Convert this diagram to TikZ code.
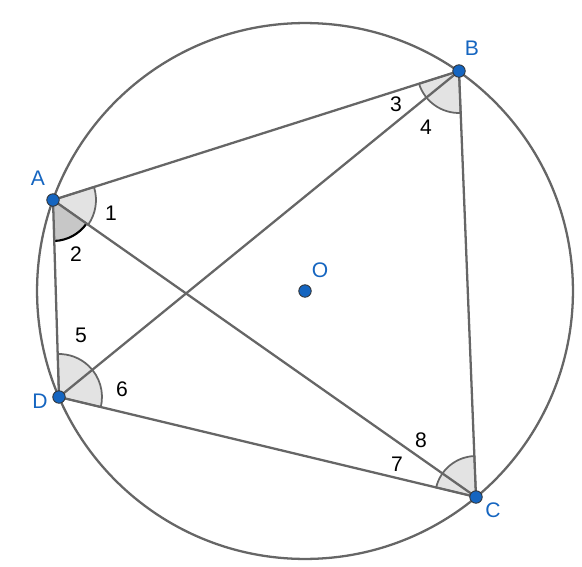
\documentclass[tikz,border=0pt]{standalone}
\usepackage{fontspec}
\setmainfont{Liberation Sans}
\usepackage{tikz}
\definecolor{ptblue}{RGB}{21,101,192}
\definecolor{linegray}{RGB}{102,102,102}

\begin{document}
\begin{tikzpicture}[x=0.02cm,y=0.02cm,
    seg/.style={draw=linegray,line width=1.3pt},
    sector/.style={fill=black!11,draw=linegray,line width=1pt},
    pt/.style={circle,fill=ptblue,draw=black!80,line width=0.5pt,inner sep=0pt,minimum size=0.25cm},
    ptlabel/.style={text=ptblue,font=\fontsize{12}{14}\selectfont},
    num/.style={font=\fontsize{12}{14}\selectfont}]
      \useasboundingbox (0,0) rectangle (582,566);
      \coordinate (O) at (305,275);
      \coordinate (A) at (53,366);
      \coordinate (B) at (459,495);
      \coordinate (C) at (476,69);
      \coordinate (D) at (59,169);
      % angle sectors
      \draw[sector] (A) -- ++(-35.07:0.86cm) arc[start angle=-35.07,end angle=17.63,radius=0.86cm] -- cycle;
      \fill[black!22] (A) -- ++(-88.26:0.82cm) arc[start angle=-88.26,end angle=-35.07,radius=0.82cm] -- cycle;
      \draw[black,line width=1.2pt] (A) ++(-88.26:0.82cm) arc[start angle=-88.26,end angle=-35.07,radius=0.82cm];
      \draw[sector] (B) -- ++(197.63:0.84cm) arc[start angle=197.63,end angle=272.29,radius=0.84cm] -- cycle;
      \draw[sector] (D) -- ++(-13.49:0.86cm) arc[start angle=-13.49,end angle=91.74,radius=0.86cm] -- cycle;
      \draw[sector] (C) -- ++(92.29:0.82cm) arc[start angle=92.29,end angle=166.51,radius=0.82cm] -- cycle;
      % circle and chords
      \draw[seg] (O) circle[radius=5.36cm];
      \draw[seg] (A) -- (B) -- (C) -- (D) -- cycle;
      \draw[seg] (A) -- (C);
      \draw[seg] (B) -- (D);
      % points
      \node[pt] (pA) at (A) {};
      \node[pt] (pB) at (B) {};
      \node[pt] (pC) at (C) {};
      \node[pt] (pD) at (D) {};
      \node[pt] (pO) at (O) {};
      \node[ptlabel] (lA) at (38,388) {A};
      \node[ptlabel] (lB) at (472,518) {B};
      \node[ptlabel] (lC) at (493,56) {C};
      \node[ptlabel] (lD) at (40,165) {D};
      \node[ptlabel] (lO) at (320,296) {O};
      % angle numbers
      \node[num] (n1) at (111,353) {1};
      \node[num] (n2) at (76,312) {2};
      \node[num] (n3) at (396,462) {3};
      \node[num] (n4) at (426,439) {4};
      \node[num] (n5) at (81,231) {5};
      \node[num] (n6) at (122,177) {6};
      \node[num] (n7) at (397,102) {7};
      \node[num] (n8) at (421,126) {8};
\end{tikzpicture}
\end{document}
